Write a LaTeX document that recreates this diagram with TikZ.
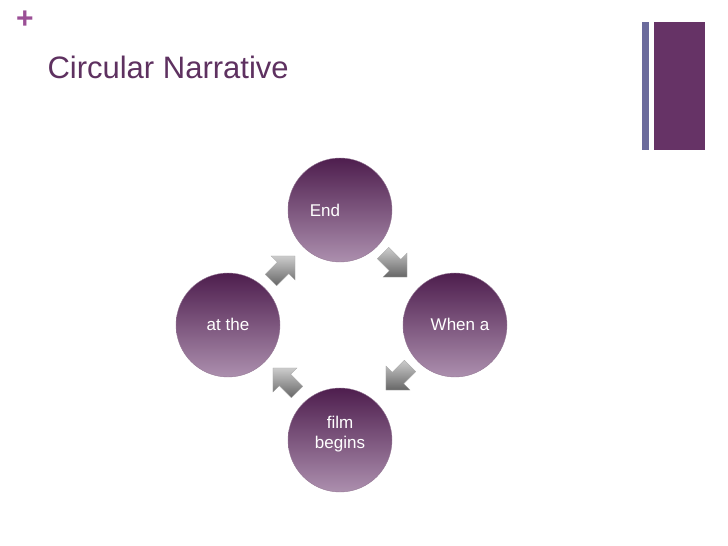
\documentclass[tikz,border=0pt]{standalone}
\usepackage{fontspec}
\setmainfont{Liberation Sans}
\definecolor{ttl}{HTML}{5E3160}
\definecolor{plus}{HTML}{9B4F96}
\definecolor{cdark}{HTML}{4E1E4E}
\definecolor{clight}{HTML}{AC8FAE}
\definecolor{bar1}{HTML}{6B6B9C}
\definecolor{bar2}{HTML}{663366}
\begin{document}
\begin{tikzpicture}[x=1pt,y=-1pt,
  circ/.style={circle,minimum size=104pt,inner sep=0pt,top color=cdark,bottom color=clight,draw=cdark!60,line width=0.4pt},
  lbl/.style={text=white,font=\fontsize{17}{21}\selectfont,align=center},
  blk/.style={top color=gray!40,bottom color=gray!80!black,draw=gray!70,line width=0.3pt}]
\useasboundingbox (0,0) rectangle (728,546);
\node[text=plus,font=\fontsize{30}{30}\selectfont\bfseries] (p) at (25,20) {+};
\node[text=ttl,font=\fontsize{31}{36}\selectfont,anchor=west] (t) at (44,67) {Circular Narrative};
\fill[bar1] (642,22) rectangle (649,150);
\fill[bar2] (654,22) rectangle (705,150);
\node[circ] (a) at (340,210) {};
\node[circ] (b) at (455,325) {};
\node[circ] (c) at (340,440) {};
\node[circ] (d) at (228,325) {};
\node[lbl] (ta) at (325,210) {End};
\node[lbl] (tb) at (460,324) {When a};
\node[lbl] (td) at (228,324) {at the};
\node[lbl,font=\fontsize{17}{20}\selectfont] (tc) at (340,434) {film\\begins};
\foreach \cx/\cy/\ang in {395/265/-45, 398/378/-135, 285/380/135, 283/268/45}{
  \begin{scope}[shift={(\cx,\cy)},rotate=\ang]
    \shade[blk] (-17,-8) -- (0,-8) -- (0,-17) -- (17,0) -- (0,17) -- (0,8) -- (-17,8) -- cycle;
  \end{scope}}
\end{tikzpicture}
\end{document}
